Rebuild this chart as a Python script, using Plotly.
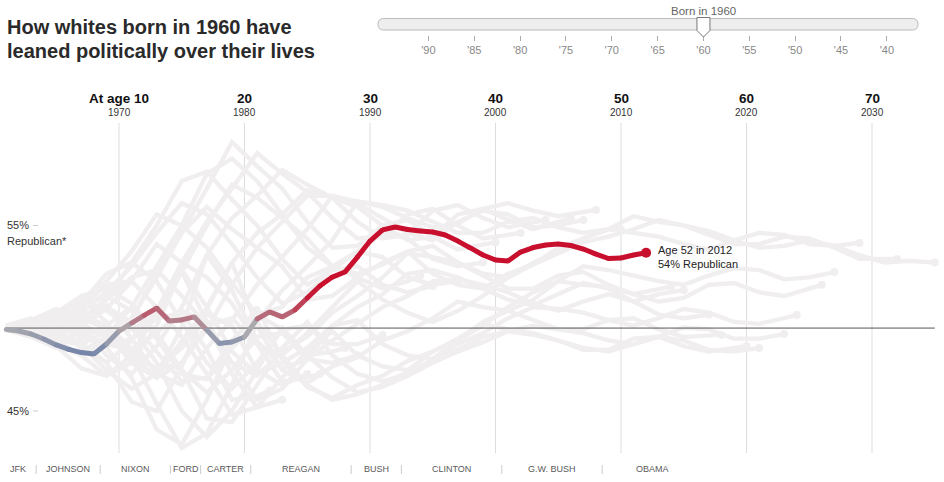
import plotly.graph_objects as go

W, H = 944, 482

# ---------------- data ----------------
BIRTH_YEAR = 1960
SURVEY_YEAR = 2012
EVEN_LINE = 49.47          # level of the horizontal reference line (%)

ages_1960 = list(range(1, 53))
rep_1960 = [49.39, 49.31, 49.15, 48.88, 48.56, 48.32, 48.15, 48.07, 48.61, 49.31,
            49.74, 50.15, 50.55, 49.85, 49.91, 50.07, 49.37, 48.64, 48.72, 48.99,
            49.96, 50.34, 50.07, 50.44, 51.09, 51.74, 52.22, 52.49, 53.30, 54.16,
            54.76, 54.92, 54.78, 54.70, 54.65, 54.49, 54.16, 53.79, 53.41, 53.14,
            53.09, 53.57, 53.81, 53.95, 54.00, 53.92, 53.73, 53.46, 53.22, 53.25,
            53.41, 53.53]

# other birth cohorts: values at ages 1, 3, 5, ... and at their age in 2012
g1937 = [49.4, 49.1, 48.8, 48.6, 49.3, 49.4, 50.2, 52.5, 55.0, 57.2, 56.5, 55.4, 54.3,
         52.8, 52.4, 52.9, 53.6, 53.9, 53.0, 52.4, 52.2, 52.9, 53.5, 54.1, 54.4, 54.8,
         55.3, 55.0, 54.7, 54.2, 53.8, 53.9, 54.2, 53.9, 53.4, 53.0, 53.1, 53.0]
g1940 = [49.4, 49.0, 48.7, 49.3, 49.2, 50.0, 52.2, 54.6, 56.0, 54.8, 53.8, 52.8, 51.0,
         51.2, 52.2, 53.0, 53.6, 52.4, 51.8, 51.6, 52.4, 52.9, 53.8, 54.3, 54.8, 55.5,
         55.2, 55.0, 54.5, 54.0, 54.0, 54.4, 54.3, 53.8, 53.2, 53.2, 53.2]
g1943 = [49.4, 49.5, 49.4, 49.6, 50.5, 52.0, 54.0, 53.0, 52.2, 50.8, 48.6, 48.0, 49.2,
         50.6, 52.0, 51.0, 50.3, 49.8, 50.4, 51.2, 52.2, 53.0, 53.6, 54.3, 54.8, 54.6,
         54.4, 54.0, 53.7, 54.2, 54.6, 54.5, 54.0, 53.9, 54.06]
g1945 = [49.5, 49.5, 49.5, 50.0, 51.0, 52.2, 52.6, 51.2, 49.6, 47.6, 45.6, 46.2, 47.8,
         49.6, 49.9, 48.6, 48.0, 47.8, 48.8, 49.6, 50.6, 51.4, 52.0, 52.8, 52.6, 52.3,
         52.0, 51.8, 52.3, 52.7, 52.6, 52.1, 52.2, 52.49]
g1946 = [49.5, 49.4, 49.8, 50.6, 51.8, 52.0, 50.6, 49.0, 47.0, 44.8, 45.2, 46.8, 48.2,
         49.3, 48.0, 47.4, 47.2, 48.2, 48.8, 49.8, 50.4, 51.0, 52.0, 51.8, 51.7, 51.3,
         50.9, 51.1, 51.8, 51.9, 51.4, 51.2, 51.6, 51.8]
g1948 = [49.5, 49.6, 50.0, 50.6, 51.2, 50.4, 49.2, 47.2, 44.6, 44.4, 46.4, 48.4, 49.8,
         48.0, 47.0, 46.6, 47.0, 47.8, 48.6, 49.2, 50.0, 50.6, 50.5, 50.3, 49.9, 49.6,
         50.0, 50.5, 50.3, 49.8, 49.7, 50.0, 50.18]
g1949 = [49.5, 49.8, 50.3, 51.0, 50.4, 49.5, 47.6, 45.0, 43.6, 45.0, 47.2, 49.5, 48.0,
         46.8, 46.0, 46.3, 46.9, 47.6, 48.2, 48.7, 49.3, 49.6, 49.4, 49.2, 48.8, 48.6,
         49.0, 49.5, 49.4, 48.9, 48.9, 49.15]
g1951 = [49.6, 49.9, 50.4, 50.0, 49.4, 48.0, 45.4, 43.0, 43.8, 46.4, 49.8, 48.0, 46.4,
         45.6, 45.9, 46.4, 47.1, 47.7, 48.3, 49.0, 49.3, 49.1, 48.8, 48.4, 48.2, 48.6,
         49.0, 48.8, 48.3, 48.2, 48.4]
g1952 = [49.5, 49.7, 49.8, 49.3, 48.4, 46.8, 44.0, 43.2, 45.6, 48.6, 50.6, 47.8, 46.3,
         45.7, 46.4, 46.9, 47.7, 48.2, 48.9, 49.7, 49.4, 49.2, 48.8, 48.3, 48.3, 48.9,
         49.0, 48.5, 48.2, 48.4, 48.5]
g1954 = [49.5, 49.5, 49.2, 48.7, 47.6, 45.5, 45.0, 47.4, 50.6, 53.0, 49.6, 47.2, 46.5,
         47.4, 47.9, 48.8, 49.3, 50.0, 50.9, 50.6, 50.4, 49.9, 49.4, 49.4, 49.9, 50.0,
         49.4, 49.0, 49.1, 49.1]
g1955 = [49.5, 49.3, 49.0, 48.5, 47.2, 46.2, 47.0, 49.5, 53.4, 51.5, 48.8, 47.3, 47.8,
         48.8, 49.7, 50.6, 51.2, 52.0, 52.1, 51.8, 51.4, 50.8, 50.4, 50.9, 51.3, 50.9,
         50.2, 50.0, 50.2]
g1957 = [49.4, 49.2, 48.8, 48.0, 46.9, 47.6, 49.6, 52.6, 50.6, 48.2, 47.0, 47.6, 48.4,
         49.6, 50.6, 51.3, 52.4, 52.6, 52.2, 51.6, 51.0, 50.7, 51.3, 51.9, 51.6, 50.9,
         51.3, 51.52]
g1958 = [49.4, 49.1, 48.5, 47.3, 46.9, 48.0, 50.3, 52.5, 49.8, 47.6, 46.9, 48.2, 49.0,
         50.3, 51.2, 52.2, 53.5, 53.3, 53.0, 52.3, 51.6, 51.6, 52.3, 52.5, 51.8, 51.3,
         51.6, 51.7]
g1962 = [49.4, 49.0, 48.6, 48.9, 49.6, 50.6, 48.9, 47.0, 46.7, 48.4, 49.8, 51.5, 52.8,
         54.2, 56.3, 56.1, 55.8, 55.2, 54.6, 54.6, 55.2, 55.4, 54.9, 54.6, 54.8, 54.8]
g1964 = [49.4, 49.2, 49.5, 50.1, 50.7, 48.9, 47.0, 46.4, 48.4, 49.9, 51.8, 53.3, 54.8,
         56.6, 56.3, 56.0, 55.4, 54.9, 55.1, 55.9, 56.2, 55.8, 55.5, 55.7, 55.84]
g1965 = [49.4, 49.6, 50.2, 51.0, 49.8, 48.0, 46.8, 47.6, 49.4, 51.8, 53.8, 55.2, 56.6,
         56.6, 56.2, 55.4, 54.6, 54.2, 55.2, 55.8, 55.6, 54.9, 55.0, 55.3]
g1966 = [49.4, 49.5, 50.0, 50.6, 49.3, 47.6, 46.8, 48.8, 50.5, 53.0, 54.6, 55.6, 56.9,
         56.5, 56.0, 55.0, 54.2, 54.4, 55.6, 55.9, 55.3, 54.8, 55.2, 55.4]
g1968 = [49.5, 49.9, 50.5, 49.6, 48.0, 47.0, 48.5, 50.6, 53.4, 55.4, 56.6, 58.0, 57.2,
         56.5, 55.2, 54.3, 54.5, 55.8, 56.1, 55.4, 54.9, 55.2, 55.3]
g1970 = [49.6, 50.0, 49.4, 48.4, 47.6, 48.8, 50.4, 53.0, 55.2, 57.0, 58.9, 57.8, 56.8,
         55.4, 54.3, 54.4, 55.6, 55.9, 55.0, 54.3, 54.5, 54.6]
g1972 = [49.5, 49.2, 48.6, 48.0, 48.9, 50.0, 52.4, 54.6, 57.0, 59.5, 58.2, 57.0, 55.2,
         53.8, 53.9, 55.0, 55.3, 54.4, 53.7, 54.0, 54.1]
g1973 = [49.4, 49.0, 48.4, 48.2, 49.0, 50.6, 52.8, 55.0, 57.8, 58.6, 57.4, 55.6, 53.8,
         52.8, 53.6, 54.6, 54.3, 53.2, 52.8, 53.0]
g1975 = [49.4, 49.0, 49.1, 49.8, 51.0, 53.0, 55.0, 57.4, 57.9, 56.4, 55.0, 53.2, 51.8,
         52.6, 53.6, 53.3, 52.2, 51.8, 52.0]
g1977 = [49.4, 49.4, 49.8, 50.4, 51.4, 52.8, 54.6, 56.2, 55.6, 54.0, 52.2, 50.8, 51.4,
         52.6, 52.8, 51.8, 51.4, 51.74]
g1978 = [49.5, 49.7, 50.2, 51.0, 52.0, 53.6, 55.6, 55.0, 53.8, 51.9, 50.2, 50.6, 52.2,
         52.8, 52.2, 51.6, 52.0, 52.3]
g1981 = [49.4, 49.7, 50.2, 50.8, 52.4, 53.0, 52.0, 49.8, 47.6, 46.2, 47.6, 49.4, 49.6,
         48.6, 48.6, 49.1]
g1983 = [49.5, 49.8, 50.3, 51.2, 51.6, 50.8, 49.2, 47.2, 46.0, 47.2, 49.0, 49.2, 47.8,
         47.6, 48.0]
g1984 = [49.5, 49.7, 50.1, 50.8, 50.6, 49.8, 48.2, 46.6, 46.8, 48.8, 50.2, 49.4, 48.0,
         48.2, 48.4]
g1986 = [49.5, 49.7, 50.2, 50.2, 49.6, 48.4, 47.2, 47.6, 49.6, 50.0, 48.6, 46.6, 46.8,
         47.0]
g1987 = [49.5, 49.7, 50.0, 49.7, 49.0, 48.0, 47.3, 48.4, 50.2, 49.6, 47.2, 46.4, 47.0]
g1989 = [49.6, 49.8, 49.6, 49.2, 48.6, 48.3, 49.2, 50.4, 49.8, 47.0, 45.2, 45.6]
g1990 = [49.6, 49.7, 49.5, 49.0, 48.5, 48.9, 50.0, 50.3, 48.3, 45.6, 45.8, 46.1]

grey_cohorts = [(1937, g1937), (1940, g1940), (1943, g1943), (1945, g1945),
                (1946, g1946), (1948, g1948), (1949, g1949), (1951, g1951),
                (1952, g1952), (1954, g1954), (1955, g1955), (1957, g1957),
                (1958, g1958), (1962, g1962), (1964, g1964), (1965, g1965),
                (1966, g1966), (1968, g1968), (1970, g1970), (1972, g1972),
                (1973, g1973), (1975, g1975), (1977, g1977), (1978, g1978),
                (1981, g1981), (1983, g1983), (1984, g1984), (1986, g1986),
                (1987, g1987), (1989, g1989), (1990, g1990)]

age_ticks = [10, 20, 30, 40, 50, 60, 70]
y_ticks = [55, 45]

presidents = ["JFK", "JOHNSON", "NIXON", "FORD", "CARTER", "REAGAN", "BUSH",
              "CLINTON", "G.W. BUSH", "OBAMA"]
term_start = [1961, 1963.9, 1969, 1974.6, 1977, 1981, 1989, 1993, 2001, 2009]
term_end = [1963.9, 1969, 1974.6, 1977, 1981, 1989, 1993, 2001, 2009, 2017]

slider_years = [1990, 1985, 1980, 1975, 1970, 1965, 1960, 1955, 1950, 1945, 1940]
slider_labels = ["'90", "'85", "'80", "'75", "'70", "'65", "'60", "'55", "'50", "'45", "'40"]

# ---------------- layout helpers ----------------
FONT = "Liberation Sans, Arial, sans-serif"
PX_PER_YEAR = 12.55
AGE0_PX = -6.5
X_RANGE = [(0 - AGE0_PX) / PX_PER_YEAR, (W - AGE0_PX) / PX_PER_YEAR]
Y_RANGE = [41.172, 67.156]
SL_LEFT, SL_RIGHT = 378.0, 918.0
SL_RANGE = [1995.5, 1936.6]
GREY = "#f1eeef"


def px(x):
    return x / W


def py(y):
    return 1 - y / H


def mix(c0, c1, t):
    return "rgb(%d,%d,%d)" % tuple(round(a + (b - a) * t) for a, b in zip(c0, c1))


def seg_color(v):
    d = v - EVEN_LINE
    neutral = (170, 170, 175)
    if d < 0:
        return mix(neutral, (118, 134, 170), min(-d / 1.3, 1.0))
    return mix(neutral, (200, 16, 46), min(d / 2.1, 1.0) ** 0.8)


fig = go.Figure()

# grey cohort lines
for born, vals in grey_cohorts:
    end = SURVEY_YEAR - born
    ages = list(range(1, end + 1, 2))
    if end % 2 == 0:
        ages.append(end)
    n = min(len(ages), len(vals))
    fig.add_trace(go.Scatter(x=ages[:n], y=vals[:n], mode="lines",
                             line=dict(color=GREY, width=4.3),
                             hoverinfo="skip", showlegend=False))
    fig.add_trace(go.Scatter(x=[ages[n - 1]], y=[vals[n - 1]], mode="markers",
                             marker=dict(color=GREY, size=8),
                             hoverinfo="skip", showlegend=False))

# even line
fig.add_trace(go.Scatter(x=[ages_1960[0] - 0.08, 75.0], y=[EVEN_LINE, EVEN_LINE],
                         mode="lines", line=dict(color="#555555", width=1),
                         hoverinfo="skip", showlegend=False))

# 1960 cohort, colored by lean
for i in range(len(ages_1960) - 1):
    c = seg_color((rep_1960[i] + rep_1960[i + 1]) / 2)
    fig.add_trace(go.Scatter(x=ages_1960[i:i + 2], y=rep_1960[i:i + 2],
                             mode="lines+markers",
                             line=dict(color=c, width=5),
                             marker=dict(color=c, size=4.6),
                             hoverinfo="skip", showlegend=False))
fig.add_trace(go.Scatter(x=[ages_1960[-1]], y=[rep_1960[-1]], mode="markers",
                         marker=dict(color="#c8102e", size=10),
                         hoverinfo="skip", showlegend=False))

# slider axis anchor trace
fig.add_trace(go.Scatter(x=[BIRTH_YEAR], y=[0.5], xaxis="x2", yaxis="y2",
                         mode="markers", marker=dict(opacity=0),
                         hoverinfo="skip", showlegend=False))

shapes = []
annotations = []

# vertical age gridlines and headers
for a in age_ticks:
    shapes.append(dict(type="line", xref="x", yref="paper", x0=a, x1=a,
                       y0=py(453), y1=py(123), line=dict(color="#dddddd", width=1),
                       layer="below"))
    label = "At age %d" % a if a == age_ticks[0] else str(a)
    annotations.append(dict(xref="x", yref="paper", x=a, y=py(98.5), text="<b>%s</b>" % label,
                            showarrow=False, xanchor="center", yanchor="middle",
                            font=dict(family=FONT, size=13.5, color="#111111")))
    annotations.append(dict(xref="x", yref="paper", x=a, y=py(112.5), text=str(BIRTH_YEAR + a),
                            showarrow=False, xanchor="center", yanchor="middle",
                            font=dict(family=FONT, size=10, color="#333333")))

# y labels
for v in y_ticks:
    annotations.append(dict(xref="paper", yref="y", x=px(5), y=v, text="%d%%" % v,
                            showarrow=False, xanchor="left", yanchor="middle",
                            font=dict(family=FONT, size=11, color="#333333")))
    shapes.append(dict(type="line", xref="paper", yref="y", x0=px(33), x1=px(38),
                       y0=v, y1=v, line=dict(color="#cccccc", width=1)))
annotations.append(dict(xref="paper", yref="y", x=px(5), y=y_ticks[0], yshift=-15.5,
                        text="Republican*", showarrow=False, xanchor="left",
                        yanchor="middle", font=dict(family=FONT, size=11, color="#333333")))

# end label
annotations.append(dict(xref="x", yref="y", x=ages_1960[-1], y=rep_1960[-1],
                        xshift=10, yshift=-4, align="left",
                        text="Age %d in %d<br>%d%% Republican" % (
                            ages_1960[-1], BIRTH_YEAR + ages_1960[-1], round(rep_1960[-1])),
                        showarrow=False, xanchor="left", yanchor="middle",
                        font=dict(family=FONT, size=11, color="#222222")))

# presidents
for name, s, e in zip(presidents, term_start, term_end):
    mid = (s + e) / 2 - 0.5 - BIRTH_YEAR
    annotations.append(dict(xref="x", yref="paper", x=mid, y=py(469), text=name,
                            showarrow=False, xanchor="center", yanchor="middle",
                            font=dict(family=FONT, size=9, color="#5a5a5a")))
for s in term_start[1:]:
    a = s - 0.5 - BIRTH_YEAR
    shapes.append(dict(type="line", xref="x", yref="paper", x0=a, x1=a,
                       y0=py(474), y1=py(465), line=dict(color="#cccccc", width=1)))

# title
annotations.append(dict(xref="paper", yref="paper", x=px(5), y=py(27), xanchor="left",
                        yanchor="middle", showarrow=False,
                        text="<b>How whites born in %d have</b>" % BIRTH_YEAR,
                        font=dict(family=FONT, size=20, color="#2a2a2a")))
annotations.append(dict(xref="paper", yref="paper", x=px(5), y=py(51), xanchor="left",
                        yanchor="middle", showarrow=False,
                        text="<b>leaned politically over their lives</b>",
                        font=dict(family=FONT, size=20, color="#2a2a2a")))

# slider track and handle
t0, t1, r = 18.5, 30.0, 5.75
L, R = SL_LEFT, SL_RIGHT
track = ("M {a},{t} L {b},{t} Q {R},{t} {R},{m} Q {R},{u} {b},{u} L {a},{u} "
         "Q {L},{u} {L},{m} Q {L},{t} {a},{t} Z").format(
    a=px(L + r), b=px(R - r), t=py(t0), u=py(t1), m=py((t0 + t1) / 2), R=px(R), L=px(L))
shapes.append(dict(type="path", xref="paper", yref="paper", path=track,
                   fillcolor="#eeeeee", line=dict(color="#bbbbbb", width=1)))
hx = SL_LEFT + (SL_RANGE[0] - BIRTH_YEAR) / (SL_RANGE[0] - SL_RANGE[1]) * (SL_RIGHT - SL_LEFT)
handle = "M {l},{t} L {r},{t} L {r},{b} L {c},{p} L {l},{b} Z".format(
    l=px(hx - 6.5), r=px(hx + 6.5), c=px(hx), t=py(17.5), b=py(30.5), p=py(37))
shapes.append(dict(type="path", xref="paper", yref="paper", path=handle,
                   fillcolor="#ffffff", line=dict(color="#777777", width=1)))
annotations.append(dict(xref="paper", yref="paper", x=px(hx), y=py(10.5),
                        text="Born in %d" % BIRTH_YEAR, showarrow=False,
                        xanchor="center", yanchor="middle",
                        font=dict(family=FONT, size=11.5, color="#666666")))

fig.update_layout(
    width=W, height=H, margin=dict(l=0, r=0, t=0, b=0),
    paper_bgcolor="white", plot_bgcolor="white", hovermode=False,
    showlegend=False,
    xaxis=dict(domain=[0, 1], range=X_RANGE, visible=False, fixedrange=True),
    yaxis=dict(domain=[0, 1], range=Y_RANGE, visible=False, fixedrange=True),
    xaxis2=dict(domain=[px(SL_LEFT), px(SL_RIGHT)], range=SL_RANGE, anchor="free",
                position=py(34.5), side="bottom", tickmode="array",
                tickvals=slider_years, ticktext=slider_labels, ticks="outside",
                ticklen=5, tickwidth=1, tickcolor="#aaaaaa", showline=False,
                showgrid=False, zeroline=False, fixedrange=True,
                tickfont=dict(family=FONT, size=11, color="#888888")),
    yaxis2=dict(domain=[py(31), py(18)], range=[0, 1], visible=False, fixedrange=True),
    shapes=shapes, annotations=annotations,
)

fig.write_html("out.html", config={"displayModeBar": False})
